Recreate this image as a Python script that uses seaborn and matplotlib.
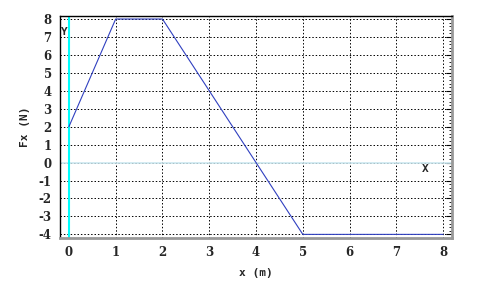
import matplotlib
matplotlib.use("Agg")
import matplotlib.pyplot as plt
import seaborn as sns
import pandas as pd
from matplotlib.ticker import MultipleLocator

x_vals = [0, 1, 2, 5, 8]
fx_vals = [2, 8, 8, -4, -4]
x_ticks = [0, 1, 2, 3, 4, 5, 6, 7, 8]
y_ticks = [-4, -3, -2, -1, 0, 1, 2, 3, 4, 5, 6, 7, 8]

sns.set_style("white")
plt.rcParams["axes.unicode_minus"] = False
df = pd.DataFrame({"x": x_vals, "Fx": fx_vals})

fig = plt.figure(figsize=(4.84, 2.85), dpi=100)
ax = fig.add_axes([0.124, 0.165, 0.810, 0.779])

ax.set_xlim(-0.19, 8.19)
ax.set_ylim(-4.2, 8.17)

ax.set_xticks(x_ticks)
ax.set_yticks(y_ticks)
ax.xaxis.set_minor_locator(MultipleLocator(0.2))
ax.yaxis.set_minor_locator(MultipleLocator(0.2))
ax.grid(True, which="major", color="black", linestyle=(0, (1.5, 2)), linewidth=0.7)

ax.axhline(0, color="#cce8f0", linewidth=1.2, zorder=1)
ax.axvline(0, color="cyan", linewidth=1.5, zorder=2)

sns.lineplot(data=df, x="x", y="Fx", ax=ax, color="#3040c0", linewidth=0.8, zorder=3)

for s in ["top", "left"]:
    ax.spines[s].set_color("black")
    ax.spines[s].set_linewidth(1.0)
for s in ["bottom", "right"]:
    ax.spines[s].set_color("#999999")
    ax.spines[s].set_linewidth(2.0)

ax.tick_params(which="major", direction="in", length=4, width=0.8, color="black", labelsize=8.5, pad=6)
ax.tick_params(which="minor", direction="in", length=2, width=0.6, color="black")
ax.tick_params(right=True, which="both")
for lab in ax.get_xticklabels() + ax.get_yticklabels():
    lab.set_family("DejaVu Serif")
    lab.set_fontweight("bold")

ax.set_xlabel("x (m)", family="DejaVu Sans Mono", fontweight="bold", fontsize=8, labelpad=6)
ax.set_ylabel("Fx (N)", family="DejaVu Sans Mono", fontweight="bold", fontsize=8, labelpad=6)

ax.text(-0.17, 7.25, "Y", family="DejaVu Sans Mono", fontweight="bold", fontsize=8, va="center", ha="left")
ax.text(7.55, -0.35, "X", family="DejaVu Sans Mono", fontweight="bold", fontsize=8, va="center", ha="left")

fig.savefig("out.png", dpi=100)
